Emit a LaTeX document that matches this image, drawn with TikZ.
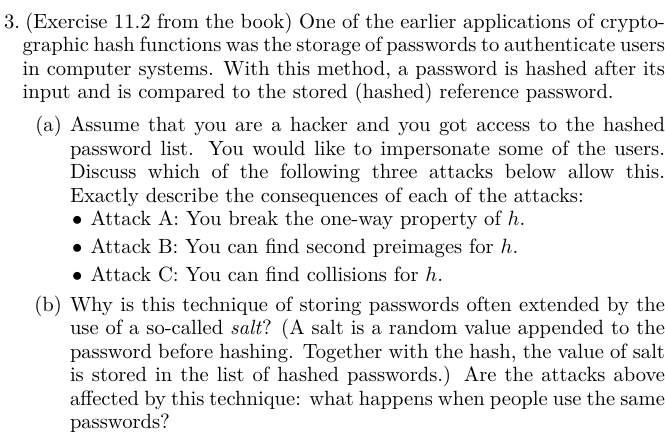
\documentclass[tikz,border=0pt]{standalone}
\begin{document}
\begin{tikzpicture}
\useasboundingbox (0,0) rectangle (323pt,-211pt);
\node[anchor=north west,inner sep=0pt,text width=321pt,align=justify,font=\fontsize{10}{11.45}\selectfont] (body) at (1.8pt,-2pt) {%
\begin{list}{3.}{\setlength{\leftmargin}{9pt}\setlength{\labelwidth}{6.5pt}\setlength{\labelsep}{2.5pt}\setlength{\topsep}{0pt}\setlength{\itemsep}{0pt}\setlength{\parsep}{0pt}}
\item (Exercise 11.2 from the book) One of the earlier applications of crypto\-graphic hash functions was the storage of passwords to authenticate users in computer systems. With this method, a password is hashed after its input and is compared to the stored (hashed) reference password.
\begin{list}{}{\setlength{\leftmargin}{23pt}\setlength{\labelwidth}{17pt}\setlength{\labelsep}{4pt}\setlength{\topsep}{4.5pt}\setlength{\partopsep}{0pt}\setlength{\itemsep}{3pt}\setlength{\parsep}{0pt}}
\item[(a)] Assume that you are a hacker and you got access to the hashed password list. You would like to impersonate some of the users. Discuss which of the following three attacks below allow this. \mbox{Exactly} describe the consequences of each of the attacks:
\begin{list}{$\bullet$}{\setlength{\leftmargin}{10pt}\setlength{\labelwidth}{6pt}\setlength{\labelsep}{4pt}\setlength{\topsep}{0pt}\setlength{\partopsep}{0pt}\setlength{\itemsep}{2pt}\setlength{\parsep}{0pt}}
\item Attack A: You break the one-way property of $h$.
\item Attack B: You can find second preimages for $h$.
\item Attack C: You can find collisions for $h$.
\end{list}
\item[(b)] Why is this technique of storing passwords often extended by the use of a so-called \emph{salt}? (A salt is a random value appended to the password before hashing. Together with the hash, the value of salt is stored in the list of hashed passwords.) Are the attacks above affected by this technique: what happens when people use the same passwords?
\end{list}
\end{list}};
\end{tikzpicture}
\end{document}
